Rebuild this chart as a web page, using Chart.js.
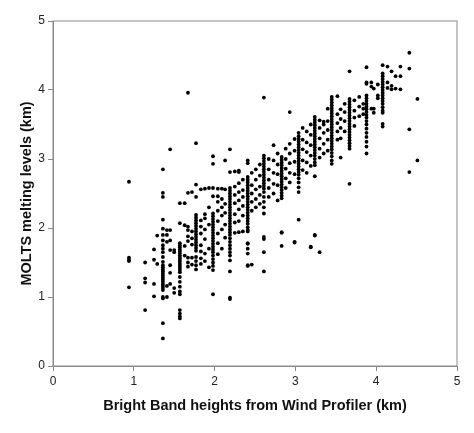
<!DOCTYPE html>
<html>
<head>
<meta charset="utf-8">
<script src="https://cdn.jsdelivr.net/npm/chart.js@4/dist/chart.umd.min.js"></script>
<style>
  html, body { margin: 0; padding: 0; background: #fff; }
  #wrap { width: 474px; height: 433px; }
</style>
</head>
<body>
<div id="wrap"><canvas id="meltChart" width="474" height="433"></canvas></div>
<script>
// bright band height columns (km)
const profilerCols = [
  0.94, 1.14, 1.25, 1.29, 1.36, 1.41, 1.45, 1.50, 1.57, 1.63,
  1.67, 1.72, 1.77, 1.83, 1.88, 1.93, 1.98, 2.04, 2.09, 2.13,
  2.19, 2.25, 2.30, 2.35, 2.41, 2.46, 2.51, 2.56, 2.61, 2.67,
  2.73, 2.78, 2.83, 2.88, 2.93, 2.99, 3.04, 3.09, 3.14, 3.19,
  3.24, 3.30, 3.35, 3.40, 3.45, 3.52, 3.56, 3.61, 3.67, 3.73,
  3.79, 3.84, 3.88, 3.94, 3.97, 4.02, 4.08, 4.14, 4.19, 4.24,
  4.30, 4.41, 4.51
];

// MOLTS melting levels (km) for each column above, same order
const moltsByCol = [
  [2.67, 1.57, 1.54, 1.52, 1.14],
  [1.50, 1.27, 1.21, 0.81],
  [1.69, 1.54, 1.19, 1.01],
  [1.89, 1.48],
  [2.85, 2.51, 2.45, 2.12, 1.99, 1.90, 1.82, 1.75, 1.70, 1.65, 1.58, 1.51, 1.46, 1.43, 1.40, 1.37, 1.34, 1.31, 1.28, 1.25, 1.22, 1.19, 1.16, 1.13, 1.10, 1.00, 0.98, 0.62, 0.40],
  [1.97, 1.90, 1.80, 1.16, 1.00],
  [3.14, 1.97, 1.82, 1.68, 1.46, 1.35, 1.19],
  [1.68, 1.65, 1.13, 1.06],
  [2.36, 2.07, 1.78, 1.75, 1.72, 1.69, 1.66, 1.63, 1.60, 1.57, 1.54, 1.51, 1.48, 1.45, 1.42, 1.39, 1.36, 1.29, 1.22, 1.15, 1.08, 1.04, 0.81, 0.76, 0.72, 0.69],
  [2.36, 2.04, 1.74, 1.60],
  [3.96, 2.51, 2.02, 1.97, 1.88, 1.81, 1.57, 1.50, 1.44],
  [2.52, 1.95, 1.85, 1.76, 1.57, 1.47],
  [3.23, 2.63, 2.45, 2.19, 2.15, 2.11, 2.07, 2.03, 1.99, 1.95, 1.91, 1.87, 1.83, 1.79, 1.75, 1.71, 1.67, 1.58, 1.52, 1.46, 1.40],
  [2.56, 2.11, 2.02, 1.92, 1.75, 1.66, 1.56, 1.48],
  [2.57, 2.20, 2.14, 1.98, 1.84, 1.63, 1.52],
  [2.58, 2.30, 2.05, 1.70, 1.43],
  [3.04, 2.93, 2.58, 2.46, 2.21, 2.17, 2.13, 2.09, 2.05, 2.01, 1.97, 1.93, 1.89, 1.85, 1.81, 1.77, 1.73, 1.69, 1.65, 1.60, 1.55, 1.50, 1.45, 1.39, 1.04],
  [2.57, 2.46, 2.38, 2.25, 2.10, 1.92, 1.78, 1.62],
  [2.57, 2.42, 2.30, 2.18, 1.98, 1.70],
  [2.98, 2.56, 2.35, 2.22, 2.05, 1.86],
  [3.14, 2.81, 2.58, 2.54, 2.50, 2.46, 2.42, 2.38, 2.34, 2.30, 2.26, 2.22, 2.18, 2.14, 2.10, 2.06, 2.02, 1.98, 1.94, 1.90, 1.85, 1.80, 1.75, 1.70, 1.65, 1.60, 1.53, 1.37, 0.99, 0.97],
  [2.82, 2.60, 2.48, 2.36, 2.20, 2.08, 1.93],
  [2.83, 2.81, 2.65, 2.52, 2.40, 2.27, 2.10, 1.94],
  [2.70, 2.55, 2.45, 2.32, 2.18, 1.95],
  [2.98, 2.94, 2.74, 2.70, 2.66, 2.62, 2.58, 2.54, 2.50, 2.46, 2.42, 2.38, 2.34, 2.30, 2.26, 2.22, 2.18, 2.14, 2.10, 2.06, 2.01, 1.97, 1.95, 1.78, 1.77, 1.70, 1.63, 1.46, 1.45],
  [2.80, 2.62, 2.50, 2.38, 2.25, 1.47],
  [2.85, 2.70, 2.56, 2.42, 2.30],
  [2.92, 2.76, 2.60, 2.48, 2.35],
  [3.89, 3.05, 3.01, 2.97, 2.93, 2.89, 2.85, 2.81, 2.77, 2.73, 2.69, 2.65, 2.61, 2.57, 2.52, 2.45, 2.38, 2.30, 2.21, 1.87, 1.84, 1.65, 1.37],
  [3.00, 2.85, 2.70, 2.58, 2.45],
  [3.20, 2.98, 2.80, 2.64, 2.50],
  [3.08, 2.92, 2.78, 2.62, 2.40],
  [3.03, 2.99, 2.95, 2.91, 2.87, 2.83, 2.79, 2.75, 2.71, 2.67, 2.63, 2.59, 2.55, 2.51, 2.47, 2.43, 1.94, 1.93, 1.74],
  [3.15, 3.00, 2.86, 2.72, 2.58],
  [3.68, 3.22, 3.08, 2.94, 2.80, 2.66],
  [3.29, 3.12, 2.96, 2.78, 1.80, 1.79],
  [3.38, 3.33, 3.29, 3.25, 3.21, 3.17, 3.13, 3.09, 3.05, 3.01, 2.97, 2.93, 2.89, 2.85, 2.81, 2.77, 2.72, 2.66, 2.59, 2.52, 2.12],
  [3.45, 3.28, 3.14, 2.98, 2.84],
  [3.40, 3.24, 3.10, 2.95, 2.80],
  [3.50, 3.35, 3.20, 3.05, 2.90, 1.73, 1.72],
  [3.61, 3.57, 3.53, 3.49, 3.45, 3.41, 3.37, 3.33, 3.29, 3.25, 3.21, 3.17, 3.13, 3.09, 3.05, 3.00, 2.95, 2.91, 2.75, 1.90, 1.89],
  [3.56, 3.45, 3.30, 3.15, 3.02, 1.65],
  [3.54, 3.50, 3.38, 3.22, 3.08],
  [3.73, 3.55, 3.42, 3.28, 3.12],
  [3.90, 3.86, 3.82, 3.78, 3.74, 3.70, 3.66, 3.62, 3.58, 3.54, 3.50, 3.46, 3.42, 3.38, 3.34, 3.30, 3.26, 3.22, 3.18, 3.14, 3.09, 3.04, 2.98, 2.93],
  [3.91, 3.65, 3.52, 3.40, 3.28],
  [3.72, 3.58, 3.45, 3.30, 3.02],
  [3.80, 3.68, 3.55, 3.40],
  [4.27, 3.87, 3.83, 3.79, 3.75, 3.71, 3.67, 3.63, 3.59, 3.55, 3.51, 3.47, 3.43, 3.39, 3.35, 3.31, 3.27, 3.23, 3.19, 3.15, 2.64],
  [3.85, 3.70, 3.60, 3.48],
  [3.90, 3.76, 3.62],
  [3.80, 3.73, 3.65],
  [4.33, 4.11, 4.09, 3.92, 3.88, 3.84, 3.80, 3.76, 3.72, 3.68, 3.64, 3.60, 3.55, 3.50, 3.44, 3.38, 3.32, 3.25, 3.18, 3.08],
  [4.11, 4.05, 3.73],
  [4.02, 3.73, 3.67],
  [4.08, 3.92, 3.88],
  [4.36, 4.24, 4.20, 4.16, 4.12, 4.08, 4.04, 4.00, 3.96, 3.92, 3.88, 3.84, 3.80, 3.75, 3.70, 3.67, 3.51, 3.47],
  [4.34, 4.11, 4.03],
  [4.27, 4.06, 4.01],
  [4.20, 4.02],
  [4.34, 4.20, 4.01],
  [4.54, 4.31, 3.43, 2.81],
  [3.87, 2.98]
];

const axisTicks = [0, 1, 2, 3, 4, 5];

const points = profilerCols.flatMap((x, i) => moltsByCol[i].map(y => ({ x: x, y: y })));

const FONT = "'Liberation Sans', Arial, sans-serif";
const AXIS_GREY = '#8a8a8a';

// top/right edges of the plot box
const boxPlugin = {
  id: 'plotBox',
  afterDraw(chart) {
    const { ctx, chartArea } = chart;
    ctx.save();
    ctx.strokeStyle = AXIS_GREY;
    ctx.lineWidth = 1;
    ctx.strokeRect(chartArea.left, chartArea.top, chartArea.right - chartArea.left, chartArea.bottom - chartArea.top);
    ctx.restore();
  }
};

new Chart(document.getElementById('meltChart'), {
  type: 'scatter',
  data: {
    datasets: [{
      data: points,
      pointRadius: 1.9,
      pointBorderWidth: 0,
      pointBackgroundColor: '#000',
      pointHoverRadius: 1.9
    }]
  },
  options: {
    responsive: false,
    animation: false,
    layout: { padding: { top: 21, right: 17, left: 0, bottom: 0 } },
    plugins: {
      legend: { display: false },
      tooltip: { enabled: false }
    },
    scales: {
      x: {
        type: 'linear',
        min: 0,
        max: 5,
        afterBuildTicks: (scale) => { scale.ticks = axisTicks.map(v => ({ value: v })); },
        afterFit: (scale) => { scale.height = 67; },
        ticks: { color: '#222', font: { family: FONT, size: 12 }, padding: 3 },
        grid: { drawOnChartArea: false, tickLength: 5, color: AXIS_GREY },
        border: { color: AXIS_GREY },
        title: {
          display: true,
          text: 'Bright Band heights from Wind Profiler (km)',
          color: '#111',
          font: { family: FONT, size: 14.5, weight: 'bold' },
          padding: { top: 4, bottom: 18 }
        }
      },
      y: {
        type: 'linear',
        min: 0,
        max: 5,
        afterBuildTicks: (scale) => { scale.ticks = axisTicks.map(v => ({ value: v })); },
        afterFit: (scale) => { scale.width = 53; },
        ticks: { color: '#222', font: { family: FONT, size: 12 }, padding: 3 },
        grid: { drawOnChartArea: false, tickLength: 5, color: AXIS_GREY },
        border: { color: AXIS_GREY },
        title: {
          display: true,
          text: 'MOLTS melting levels (km)',
          color: '#111',
          font: { family: FONT, size: 14.5, weight: 'bold' },
          padding: { top: 18, bottom: 4 }
        }
      }
    }
  },
  plugins: [boxPlugin]
});
</script>
</body>
</html>
